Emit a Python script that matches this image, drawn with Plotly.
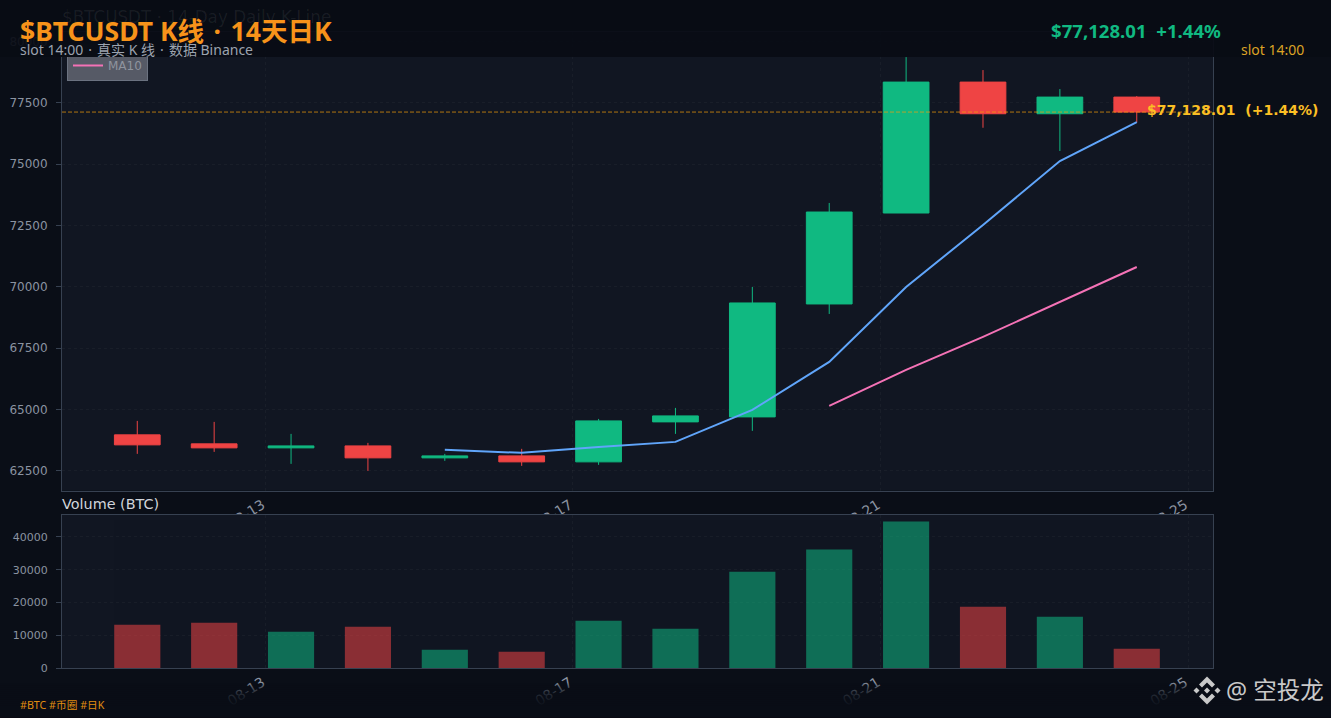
import plotly.graph_objects as go
from plotly.subplots import make_subplots

# candles sit at 08:00 each day
dates = ["2025-08-%02d 08:00" % d for d in range(11, 25)]
opens = [63960, 63593, 63430, 63510, 63022, 63103, 62859, 64490, 64693, 69300, 73010, 78351, 77059, 77739]
closes = [63552, 63430, 63510, 63022, 63103, 62859, 64530, 64734, 69341, 73050, 78351, 77059, 77739, 77128]
highs = [64530, 64490, 64000, 63633, 63185, 63390, 64610, 65060, 69993, 73420, 79370, 78841, 78066, 77780]
lows = [63185, 63266, 62777, 62490, 62900, 62696, 62736, 64000, 64123, 68893, 73010, 76488, 75540, 76700]
volumes = [13220, 13830, 11080, 12600, 5590, 4980, 14440, 12000, 29400, 36120, 44670, 18720, 15660, 5890]
ma5 = [None, None, None, None, 63348, 63226, 63470, 63674, 64979, 66936, 69993, 72521, 75130, 76720]
ma10 = [None] * 9 + [65142, 66610, 67955, 69382, 70809]
vol_up = [False, False, True, False, True, False, True, True, True, True, True, False, True, False]

last_price = 77128.01
x_range = ["2025-08-10 08:30", "2025-08-25 07:48"]
price_range = [61685, 80394]
vol_range = [0, 46800]
tick_dates = ["2025-08-13", "2025-08-17", "2025-08-21", "2025-08-25"]

GREEN = "#10b981"
RED = "#ef4444"
PAPER = "#0a0e17"
PANEL = "#111622"
AXIS = "#374151"
TICK = "#8b93a1"
GRID = "rgba(255,255,255,0.035)"
DAY_MS = 86400000
CJK = "Noto Sans, Noto Sans CJK SC"
HAIR = "\u200a"

# plot box in window pixels
L, R, T, B = 62, 1213, 32, 668.5
W = 1331
H = 718


def px(x):
    return (x - L) / (R - L)


def py(y):
    return 1 - (y - T) / (B - T)


fig = make_subplots(rows=2, cols=1, vertical_spacing=24 / (B - T),
                    row_heights=[459 / 612.5, 153.5 / 612.5])

fig.add_trace(go.Candlestick(x=dates, open=opens, high=highs, low=lows, close=closes,
                             showlegend=False, name="K",
                             increasing=dict(line=dict(color=GREEN, width=1), fillcolor=GREEN),
                             decreasing=dict(line=dict(color=RED, width=1), fillcolor=RED)),
              row=1, col=1)
fig.add_trace(go.Scatter(x=dates, y=ma5, mode="lines", name="MA5", showlegend=False,
                         line=dict(color="#60a5fa", width=2)), row=1, col=1)
fig.add_trace(go.Scatter(x=dates, y=ma10, mode="lines", name="MA10",
                         line=dict(color="#f472b6", width=2)), row=1, col=1)
fig.add_trace(go.Bar(x=dates, y=volumes, width=0.6 * DAY_MS, opacity=0.55, showlegend=False,
                     marker=dict(color=[GREEN if u else RED for u in vol_up], line=dict(width=0))),
              row=2, col=1)

axis_style = dict(showline=True, mirror=True, linecolor=AXIS, linewidth=1, showgrid=True,
                  gridcolor=GRID, griddash="dot", zeroline=False)
for r in (1, 2):
    fig.update_xaxes(axis_style, type="date", range=x_range, tickvals=tick_dates,
                     tickformat="%m-%d", tickangle=-32, ticks="", rangeslider_visible=False,
                     ticklabelshift=-3,
                     tickfont=dict(family="DejaVu Sans", size=14, color=TICK), row=r, col=1)
    fig.update_yaxes(axis_style, ticks="outside", ticklen=5, tickcolor=AXIS, tickformat="d",
                     ticklabelstandoff=6, row=r, col=1)
fig.update_yaxes(range=price_range, tickvals=[62500, 65000, 67500, 70000, 72500, 75000, 77500, 80000],
                 tickfont=dict(family="DejaVu Sans", size=12, color=TICK), row=1, col=1)
fig.update_yaxes(range=vol_range, tickvals=[0, 10000, 20000, 30000, 40000],
                 tickfont=dict(family="DejaVu Sans", size=11, color=TICK), row=2, col=1)

shapes = [
    # volume panel drawn inside the second subplot so it hides the upper date labels
    dict(type="rect", xref="x2", yref="y2", layer="below", x0=x_range[0], x1=x_range[1],
         y0=vol_range[0], y1=vol_range[1], fillcolor=PANEL, line_width=0),
    dict(type="line", xref="paper", yref="y", layer="above", x0=0, x1=1, y0=last_price, y1=last_price,
         line=dict(color="#f59e0b", width=1, dash="4px,2px"), opacity=0.7),
    # header strip
    dict(type="rect", xref="paper", yref="paper", layer="above", x0=px(0), x1=px(W), y0=py(0), y1=py(57),
         fillcolor="rgba(9,12,20,0.93)", line_width=0),
]
# fade at the foot of the page
for k in range(12):
    shapes.append(dict(type="rect", xref="paper", yref="paper", layer="above", x0=px(0), x1=px(W),
                       y0=py(684 + 2 * k), y1=py(H), fillcolor="rgba(10,14,23,0.22)", line_width=0))


def logo_path(points, cx=1207, cy=691):
    pts = ["%.5f,%.5f" % (px(cx + a), py(cy + b)) for a, b in points]
    return "M" + " L".join(pts) + " Z"


chevron = [(0, -14), (8, -6), (5, -3), (0, -8), (-5, -3), (-8, -6)]
logo_parts = [
    chevron,
    [(a, -b) for a, b in chevron],
    [(0, -3), (3, 0), (0, 3), (-3, 0)],
    [(-10.5, -3), (-7.5, 0), (-10.5, 3), (-13.5, 0)],
    [(10.5, -3), (13.5, 0), (10.5, 3), (7.5, 0)],
]
for part in logo_parts:
    shapes.append(dict(type="path", xref="paper", yref="paper", layer="above", path=logo_path(part),
                       fillcolor="#c9c9c9", line_width=0))


def note(x, y, text, size, color, family=CJK, anchor="left", bold=False):
    # x is where the text should start, annotations pad by 2px
    return dict(xref="paper", yref="paper", x=px(x - 2), y=py(y), text="<b>%s</b>" % text if bold else text,
                showarrow=False, xanchor=anchor, yanchor="middle",
                font=dict(size=size, color=color, family=family))


dot = HAIR + " · " + HAIR
annotations = [
    # legend top tucks under the header, plotly will not make the box shorter
    dict(xref="paper", yref="paper", x=px(60), y=py(44), xanchor="left", yanchor="top", text="\u00a0",
         showarrow=False, width=96, height=13, bgcolor="#0a0d15", borderpad=0, borderwidth=0),
    note(62, 17, "$BTCUSDT · 14-Day Daily K-Line", 16.8, "rgba(255,255,255,0.07)", "DejaVu Sans"),
    note(20, 31, "$BTCUSDT K线" + dot + "14天日K", 26.5, "#f7931a", bold=True),
    note(20, 50, "slot 14:00" + dot + "真实 K 线" + dot + "数据 Binance", 14, "#9ca3af"),
    note(1051, 30, "$77,128.01\u00a0\u00a0+1.44%", 18.6, GREEN, bold=True),
    note(1241, 50, "slot 14:00", 14, "#dca325"),
    note(1147, 110, "$77,128.01\u00a0\u00a0(+1.44%)", 14, "#fbbf24", "DejaVu Sans", bold=True),
    note(62, 504, "Volume (BTC)", 14.4, "#d1d5db", "DejaVu Sans"),
    note(20, 706, "#BTC #币圈 #日K", 10.7, "#e08e10"),
    note(1226, 691, "@ 空投龙", 23.5, "#c9c9c9"),
]

fig.update_layout(
    width=W, height=H,
    margin=dict(l=L, r=W - R, t=T, b=H - B, autoexpand=False),
    paper_bgcolor=PAPER,
    plot_bgcolor=PANEL,
    font=dict(family="DejaVu Sans", color=TICK),
    shapes=shapes,
    annotations=annotations,
    hovermode=False,
    boxgap=0.15,
    legend=dict(x=px(67), y=py(50), xanchor="left", yanchor="top", bgcolor="#565a66",
                bordercolor="#6b7280", borderwidth=1, font=dict(size=12, color="#8f949e")),
)

fig.write_html("out.html", config=dict(displayModeBar=False),
               post_script="document.body.style.margin='0';document.body.style.overflow='hidden';")
